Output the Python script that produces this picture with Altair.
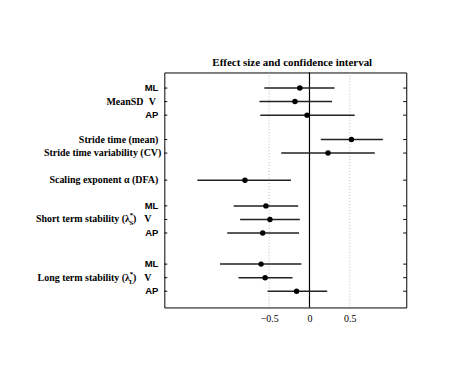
import altair as alt
import pandas as pd

# ---- data ----
row_y = [1, 2, 3, 4.8, 5.8, 7.8, 9.7, 10.7, 11.7, 14, 15, 16]
effect = [-0.12, -0.18, -0.03, 0.52, 0.23, -0.80, -0.54, -0.49, -0.58, -0.60, -0.55, -0.16]
ci_low = [-0.56, -0.62, -0.61, 0.14, -0.35, -1.39, -0.94, -0.86, -1.02, -1.11, -0.88, -0.52]
ci_high = [0.31, 0.28, 0.56, 0.91, 0.81, -0.23, -0.14, -0.12, -0.13, -0.10, -0.21, 0.22]

x_ticks = [-0.5, 0, 0.5]
grid_vals = [-0.5, 0.5]
title_text = "Effect size and confidence interval"

sans_labels = ["ML", "AP", "ML", "AP", "ML", "AP"]
sans_rows = [0, 2, 6, 8, 9, 11]
serif_labels = ["Stride time (mean)", "Scaling exponent \u03b1 (DFA)"]
serif_rows = [3, 5]
cv_label = "Stride time variability (CV)"
cv_row = 4
meansd_label = "MeanSD"
meansd_row = 1
v_rows = [7, 10]
stab_labels = ["Short term stability (\u03bb", "Long term stability (\u03bb"]
stab_subs = ["S", "L"]
stab_rows = [7, 10]

W, H = 243, 236
ydom = [-0.15, 17.2]
xdom = [-1.8, 1.2]

df = pd.DataFrame({"y": row_y, "eff": effect, "lo": ci_low, "hi": ci_high})

yscale = alt.Scale(domain=ydom, reverse=True, nice=False, zero=False)
xscale = alt.Scale(domain=xdom, nice=False, zero=False)
Y = alt.Y("y:Q", scale=yscale, axis=None)

base = alt.Chart(df)

grid = alt.Chart(pd.DataFrame({"g": grid_vals})).mark_rule(
    color="#aaaaaa", strokeDash=[1, 2], strokeWidth=0.8
).encode(x=alt.X("g:Q", scale=xscale))

axis_layer = base.mark_point(opacity=0).encode(
    x=alt.X("eff:Q", scale=xscale,
            axis=alt.Axis(values=x_ticks, format="~g", grid=False, ticks=False, domain=False,
                          labelFont="Liberation Serif", labelFontSize=10,
                          labelColor="black", labelPadding=6, title=None)),
    y=Y,
)

zero = alt.Chart(pd.DataFrame({"z": [0]})).mark_rule(color="black", strokeWidth=1.2).encode(
    x=alt.X("z:Q", scale=xscale)
)

bars = base.mark_rule(color="#222222", strokeWidth=1.5).encode(
    x=alt.X("lo:Q", scale=xscale), x2="hi:Q", y=Y
)
pts = base.mark_circle(color="black", size=30, opacity=1).encode(
    x=alt.X("eff:Q", scale=xscale), y=Y
)
right_ticks = base.mark_rule(color="black", strokeWidth=1).encode(
    x=alt.value(W - 3), x2=alt.value(W), y=Y
)
left_ticks = base.mark_rule(color="black", strokeWidth=1).encode(
    x=alt.value(0), x2=alt.value(3), y=Y
)


def lab(rows, texts):
    return pd.DataFrame({"y": [row_y[r] for r in rows], "t": texts})


serif = dict(font="Liberation Serif", fontWeight="bold", fontSize=10, baseline="middle", color="black")
sans = dict(font="Liberation Sans", fontWeight="bold", fontSize=9.5, baseline="middle", color="black")

layers = [grid, axis_layer, zero, bars, pts, right_ticks, left_ticks]
layers.append(alt.Chart(lab(sans_rows, sans_labels)).mark_text(align="right", **sans).encode(
    x=alt.value(-6), y=Y, text="t:N"))
layers.append(alt.Chart(lab(serif_rows, serif_labels)).mark_text(align="right", **serif).encode(
    x=alt.value(-6), y=Y, text="t:N"))
layers.append(alt.Chart(lab([cv_row], [cv_label])).mark_text(align="right", **serif).encode(
    x=alt.value(-3), y=Y, text="t:N"))
layers.append(alt.Chart(lab([meansd_row], [meansd_label])).mark_text(align="right", **serif).encode(
    x=alt.value(-21), y=Y, text="t:N"))
layers.append(alt.Chart(lab([meansd_row], ["V"])).mark_text(align="center", **serif).encode(
    x=alt.value(-12), y=Y, text="t:N"))
layers.append(alt.Chart(lab(v_rows, ["V", "V"])).mark_text(align="center", **serif).encode(
    x=alt.value(-16.5), y=Y, text="t:N"))
layers.append(alt.Chart(lab(stab_rows, stab_labels)).mark_text(align="right", **serif).encode(
    x=alt.value(-34.5), y=Y, text="t:N"))
small = dict(serif, fontSize=7)
layers.append(alt.Chart(lab(stab_rows, ["*", "*"])).mark_text(align="center", dy=-4, **small).encode(
    x=alt.value(-33), y=Y, text="t:N"))
layers.append(alt.Chart(lab(stab_rows, stab_subs)).mark_text(align="center", dy=4, **small).encode(
    x=alt.value(-33), y=Y, text="t:N"))
layers.append(alt.Chart(lab(stab_rows, [")", ")"])).mark_text(align="left", **serif).encode(
    x=alt.value(-31.5), y=Y, text="t:N"))

chart = alt.layer(*layers).properties(
    width=W, height=H,
    title=alt.Title(title_text, font="Liberation Serif", fontSize=11, fontWeight="bold",
                    color="black", anchor="middle", dx=7, offset=4),
    autosize=alt.AutoSizeParams(type="none"),
    padding={"left": 157, "top": 64, "right": 60, "bottom": 50},
).configure_view(stroke="black", strokeWidth=1)

chart.save("out.html", embed_options={"renderer": "svg", "actions": False})
